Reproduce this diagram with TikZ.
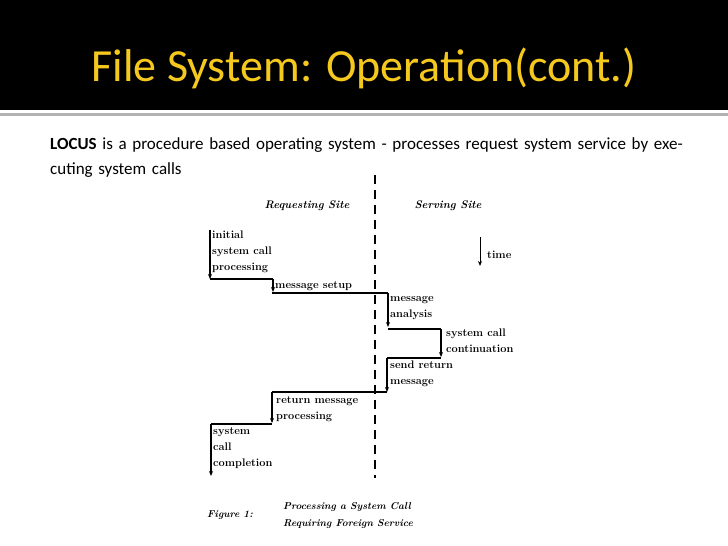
\documentclass[tikz,border=0pt]{standalone}
\usepackage{fontspec}
\newfontfamily\carlitofont{Carlito}
\usetikzlibrary{arrows.meta}
\tikzset{lbl/.style={font=\fontsize{11}{16}\selectfont\bfseries, anchor=north west, inner sep=0pt, align=left},
flow/.style={line width=1.3pt, -{Stealth[length=5pt,width=4pt]}},
hdr/.style={font=\fontsize{11}{13}\selectfont\bfseries\itshape, inner sep=0pt},
figcap/.style={font=\fontsize{10}{17}\selectfont\bfseries\itshape, inner sep=0pt, anchor=west, align=left}}
\begin{document}
\begin{tikzpicture}[x=1pt,y=-1pt]
\useasboundingbox (0,0) rectangle (728,546);
\fill[black] (0,0) rectangle (728,110);
\fill[gray!60] (0,113) rectangle (728,116);
\node[font=\carlitofont\fontsize{46}{50}\selectfont, text={rgb,255:red,245;green,200;blue,30}] (title) at (364,68) {File System: Operation(cont.)};
\node[font=\carlitofont\fontsize{17}{25}\selectfont, anchor=north west, align=left, inner sep=0pt, text width=640pt] (intro) at (50,137) {\textbf{LOCUS} is a procedure based operating system - processes request system service by executing system calls};
\draw[line width=1.3pt, dash pattern=on 9pt off 6pt] (375,175) coordinate (dtop) -- (375,478) coordinate (dbot);
\node[hdr] (rs) at (307,206) {Requesting Site};
\node[hdr] (ss) at (448,206) {Serving Site};
\coordinate (p0) at (210,230);
\coordinate (p1) at (210,279);
\coordinate (p2) at (273,279);
\coordinate (p3) at (273,292);
\coordinate (p4) at (388,293);
\coordinate (p5) at (388,327);
\coordinate (p6) at (441,329);
\coordinate (p7) at (441,357);
\coordinate (p8) at (387,358);
\coordinate (p9) at (387,392);
\coordinate (p10) at (272,392);
\coordinate (p11) at (272,423);
\coordinate (p12) at (211,424);
\coordinate (p13) at (211,476);
\draw[flow] (p0) -- (p1);
\draw[line width=1.3pt] (p1) -- (p2);
\draw[flow] (p2) -- (p3);
\draw[line width=1.3pt] (p3) -- (p3|-p4) -- (p4);
\draw[flow] (p4) -- (p5);
\draw[line width=1.3pt] (p5|-p6) -- (p6);
\draw[flow] (p6) -- (p7);
\draw[line width=1.3pt] (p7|-p8) -- (p8);
\draw[flow] (p8) -- (p9);
\draw[line width=1.3pt] (p9) -- (p10);
\draw[flow] (p10) -- (p11);
\draw[line width=1.3pt] (p11|-p12) -- (p12);
\draw[flow] (p12) -- (p13);
\node[lbl] (l1) at (212,231) {initial\\system call\\processing};
\node[lbl] (l2) at (275,281) {message setup};
\node[lbl] (l3) at (390,296) {message\\analysis};
\node[lbl] (l4) at (446,329) {system call\\continuation};
\node[lbl] (l5) at (390,361) {send return\\message};
\node[lbl] (l6) at (276,396) {return message\\processing};
\node[lbl] (l7) at (213,427) {system\\call\\completion};
\draw[flow, line width=1pt] (480,237) coordinate (t0) -- (480,266) coordinate (t1);
\node[lbl, anchor=west] (tl) at (487,255) {time};
\node[figcap] (c1) at (207,515) {Figure 1:};
\node[figcap] (c2) at (283,515) {Processing a System Call\\Requiring Foreign Service};
\end{tikzpicture}
\end{document}
